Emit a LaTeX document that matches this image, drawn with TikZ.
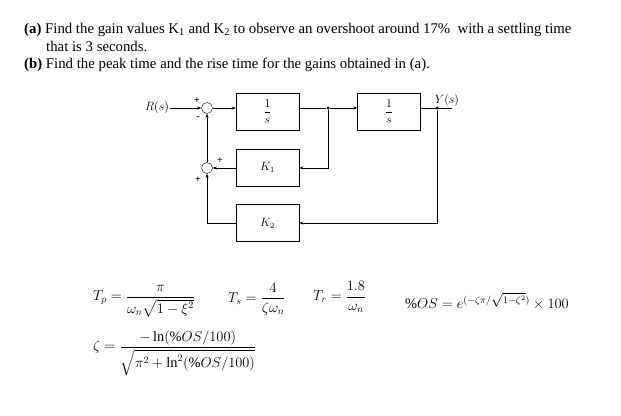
\documentclass[tikz,border=0pt]{standalone}
\usepackage{amsmath}
\usepackage{fontspec}
\setmainfont{Liberation Serif}
\usetikzlibrary{arrows.meta}
\begin{document}
\begin{tikzpicture}[x=1pt,y=-1pt,
  blk/.style={draw,minimum width=63pt,minimum height=37pt,inner sep=0pt,font=\large},
  sumc/.style={draw,circle,minimum size=11pt,inner sep=0pt},
  sig/.style={-{Stealth[length=4pt,width=3pt]},line width=0.6pt},
  dot/.style={circle,fill,inner sep=0pt,minimum size=3pt},
  lbl/.style={font=\bfseries,inner sep=1pt},
  fml/.style={anchor=west,font=\Large,inner sep=0pt}]
\useasboundingbox (0,0) rectangle (621,415);
\node[anchor=west,align=left,inner sep=0pt,font=\fontsize{14.8}{18}\selectfont] (ta) at (24,37) {\textbf{(a)} Find the gain values K\textsubscript{1} and K\textsubscript{2} to observe an overshoot around 17\%\ \ with a settling time\\\hspace*{22pt}that is 3 seconds.};
\node[anchor=west,inner sep=0pt,font=\fontsize{14.8}{18}\selectfont] (tb) at (24,65) {\textbf{(b)} Find the peak time and the rise time for the gains obtained in (a).};
% diagram
\node[font=\large,inner sep=1pt] (R) at (157,107) {$R(s)$};
\node[sumc] (s1) at (207,108) {};
\node[blk] (b1) at (267.5,111.5) {$\dfrac{1}{s}$};
\node[dot] (p1) at (328,108) {};
\node[blk] (b2) at (389,111.5) {$\dfrac{1}{s}$};
\node[dot] (p2) at (437,108) {};
\coordinate (yend) at (452,108);
\node[font=\large] (Y) at (447,100) {$Y(s)$};
\node[sumc] (s2) at (207,168) {};
\node[blk] (k1) at (267.5,167.5) {$K_1$};
\node[blk] (k2) at (267.5,223) {$K_2$};
\draw[sig] (R.east |- s1) -- (s1.west);
\draw[sig] (s1.east) -- (b1.west |- s1.east);
\draw[line width=0.6pt] (b1.east |- p1) -- (p1);
\draw[sig] (p1) -- (b2.west |- p1);
\draw[line width=0.6pt] (b2.east |- p2) -- (yend);
\draw[sig] (p1) |- (k1.east |- s2);
\draw[sig] (k1.west |- s2) -- (s2.east);
\draw[sig] (p2) |- (k2.east);
\draw[sig] (k2.west) -| (s2.south);
\draw[sig] (s2.north) -- (s1.south);
\node[lbl] at (197,101) {+};
\node[lbl] at (198,118) {-};
\node[lbl] at (220,161) {+};
\node[lbl] at (198,180) {+};
% formulas
\node[fml] (tp) at (93,301) {$T_p=\dfrac{\pi}{\omega_n\sqrt{1-\xi^2}}$};
\node[fml] (ts) at (228,299) {$T_s=\dfrac{4}{\zeta\omega_n}$};
\node[fml] (tr) at (313,297) {$T_r=\dfrac{1.8}{\omega_n}$};
\node[fml] (os) at (405,301) {$\%OS=e^{(-\zeta\pi/\sqrt{1-\zeta^2})}\times 100$};
\node[fml] (ze) at (93,353) {$\zeta=\dfrac{-\ln(\%OS/100)}{\sqrt{\pi^2+\ln^2(\%OS/100)}}$};
\end{tikzpicture}
\end{document}
